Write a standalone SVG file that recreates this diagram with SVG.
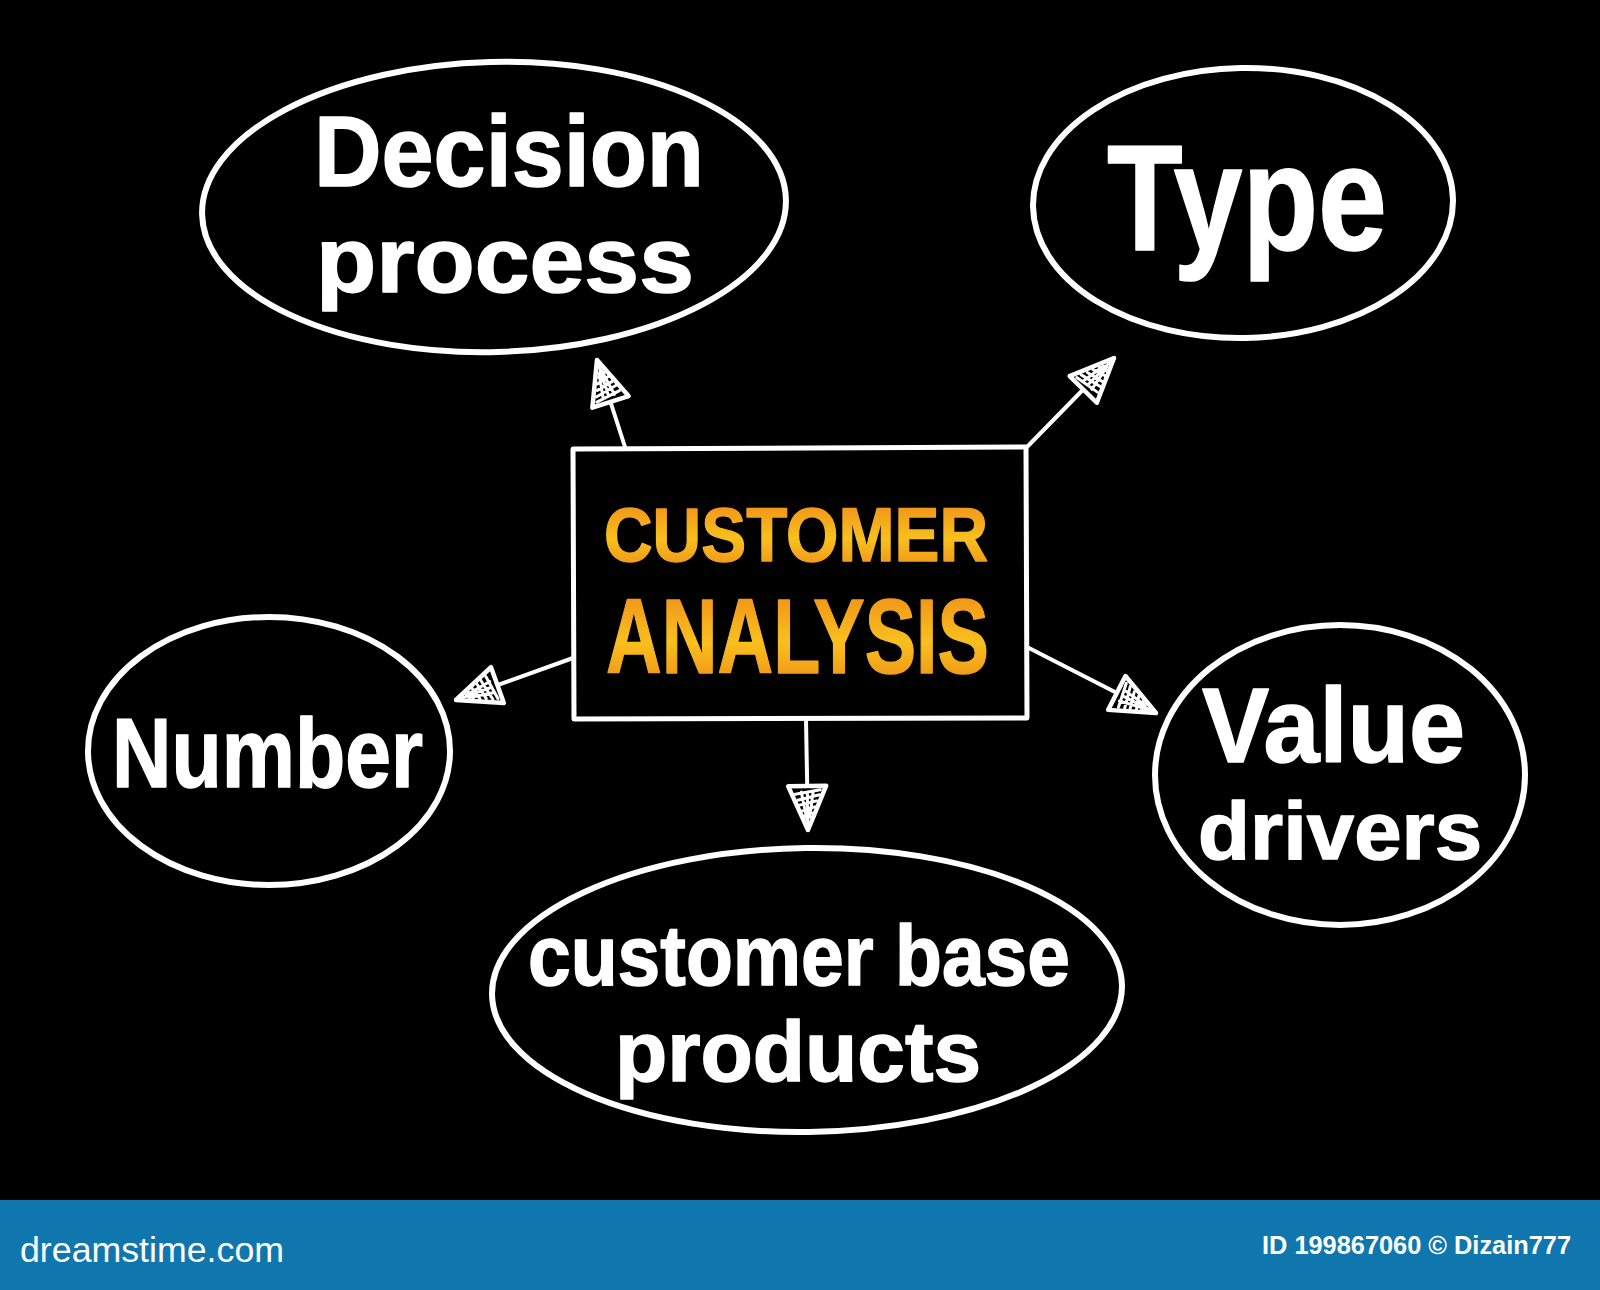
<svg xmlns="http://www.w3.org/2000/svg" width="1600" height="1290" viewBox="0 0 1600 1290">
  <style>
    .bubble { fill: none; stroke: #ffffff; stroke-width: 6; stroke-linecap: round; }
    .box { fill: #000000; stroke: #ffffff; stroke-width: 5; stroke-linejoin: round; }
    .label { font-family: "Liberation Sans", "DejaVu Sans", sans-serif; font-weight: 700; fill: #ffffff; stroke: #ffffff; stroke-width: 1.5; stroke-linejoin: round; }
    .title { font-family: "Liberation Sans", "DejaVu Sans", sans-serif; font-weight: 700; fill: url(#orange); stroke: url(#orange); stroke-width: 1.5; stroke-linejoin: round; }
    .conn { stroke: #ffffff; stroke-width: 4; stroke-linecap: round; fill: none; }
    .foot { font-family: "Liberation Sans", "DejaVu Sans", sans-serif; fill: #ffffff; }
  </style>
  <defs>
    <linearGradient id="orange" x1="0" y1="0" x2="0" y2="1">
      <stop offset="0" stop-color="#ef8418"/>
      <stop offset="0.55" stop-color="#f8c01e"/>
      <stop offset="1" stop-color="#ee8616"/>
    </linearGradient>
    <marker id="head" markerUnits="userSpaceOnUse" viewBox="0 0 50 44" refX="47" refY="22" markerWidth="50" markerHeight="44" orient="auto">
      <path d="M3,3 L47,22 L3,41 Z" fill="#000000" stroke="#ffffff" stroke-width="4.5" stroke-linejoin="round"/>
      <path d="M7,9 L11,34 M12,10 L17,32 M18,13 L22,30 M24,15 L28,28 M30,18 L33,26 M8,16 L34,20 M9,28 L36,23 M10,22 L40,22" stroke="#ffffff" stroke-width="3" stroke-linecap="round" fill="none"/>
    </marker>
  </defs>

  <rect x="0" y="0" width="1600" height="1290" fill="#000000"/>

  <g id="connectors">
    <line class="conn" x1="625" y1="447" x2="597" y2="360" marker-end="url(#head)"/>
    <line class="conn" x1="1027" y1="447" x2="1114" y2="358" marker-end="url(#head)"/>
    <line class="conn" x1="573" y1="658" x2="456" y2="700" marker-end="url(#head)"/>
    <line class="conn" x1="1027" y1="647" x2="1156" y2="713" marker-end="url(#head)"/>
    <line class="conn" x1="806" y1="720" x2="808" y2="830" marker-end="url(#head)"/>
  </g>

  <g id="node-center">
    <path class="box" d="M573,449 L1026,447 L1027,718 L574,719 Z"/>
    <text class="title" x="604" y="561" font-size="76" textLength="384" lengthAdjust="spacingAndGlyphs">CUSTOMER</text>
    <text class="title" x="606" y="673" font-size="106" textLength="383" lengthAdjust="spacingAndGlyphs">ANALYSIS</text>
  </g>

  <g id="node-decision">
    <ellipse class="bubble" cx="494" cy="207" rx="292" ry="145" transform="rotate(-1.5 494 207)"/>
    <text class="label" x="314" y="186" font-size="100" textLength="390" lengthAdjust="spacingAndGlyphs">Decision</text>
    <text class="label" x="316" y="292" font-size="92" textLength="378" lengthAdjust="spacingAndGlyphs">process</text>
  </g>

  <g id="node-type">
    <ellipse class="bubble" cx="1243" cy="203" rx="210" ry="135" transform="rotate(-1 1243 203)"/>
    <text class="label" x="1107" y="250" font-size="150" textLength="280" lengthAdjust="spacingAndGlyphs">Type</text>
  </g>

  <g id="node-number">
    <ellipse class="bubble" cx="269" cy="751" rx="181" ry="134"/>
    <text class="label" x="112" y="787" font-size="98" textLength="311" lengthAdjust="spacingAndGlyphs">Number</text>
  </g>

  <g id="node-value">
    <ellipse class="bubble" cx="1340" cy="775" rx="185" ry="150"/>
    <text class="label" x="1202" y="762" font-size="105" textLength="263" lengthAdjust="spacingAndGlyphs">Value</text>
    <text class="label" x="1198" y="859" font-size="82" textLength="284" lengthAdjust="spacingAndGlyphs">drivers</text>
  </g>

  <g id="node-customer-base">
    <ellipse class="bubble" cx="807" cy="990" rx="315" ry="142" transform="rotate(-0.8 807 990)"/>
    <text class="label" x="528" y="985" font-size="85" textLength="542" lengthAdjust="spacingAndGlyphs">customer base</text>
    <text class="label" x="615" y="1081" font-size="85" textLength="366" lengthAdjust="spacingAndGlyphs">products</text>
  </g>

  <g id="footer">
    <rect x="0" y="1200" width="1600" height="90" fill="#0f77ae"/>
    <text class="foot" x="20" y="1262" font-size="35" textLength="264" lengthAdjust="spacingAndGlyphs">dreamstime.com</text>
    <text class="foot" x="1262" y="1254" font-size="25" font-weight="700" textLength="309" lengthAdjust="spacingAndGlyphs">ID 199867060 © Dizain777</text>
  </g>
</svg>
